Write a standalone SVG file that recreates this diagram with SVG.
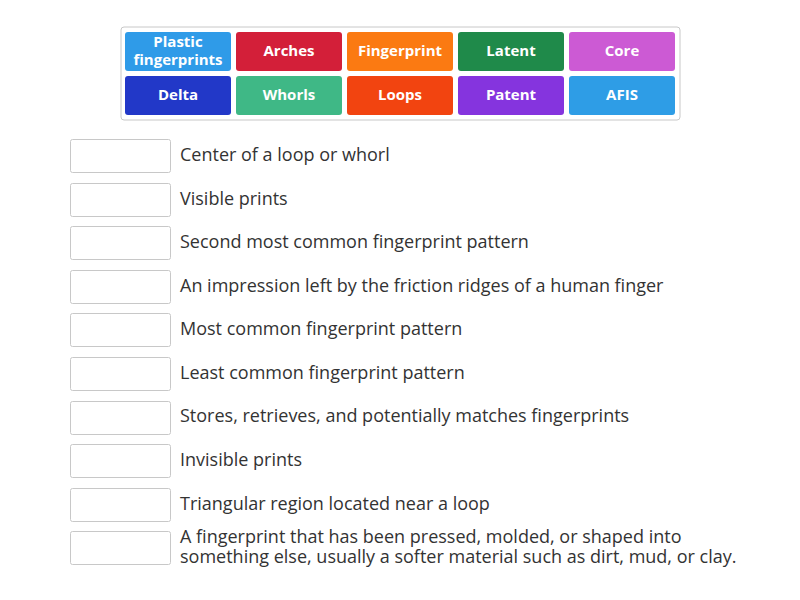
<svg xmlns="http://www.w3.org/2000/svg" width="800" height="600" viewBox="0 0 800 600">
<style>
.t{font-family:"Open Sans","Liberation Sans",sans-serif;font-weight:bold;font-size:15px;fill:#fff;text-anchor:middle}
.l{font-family:"Open Sans","Liberation Sans",sans-serif;font-size:18px;fill:#333}
.b{fill:#fff;stroke:#c8c8c8;stroke-width:1}
</style>
<rect width="800" height="600" fill="#fff"/>
<rect x="121" y="27" width="559" height="93" rx="3" fill="#fff" stroke="#c8c8c8"/>
<g id="tiles">
<g id="t1"><rect x="125" y="32" width="106" height="39" rx="3" fill="#2f9be8"/><text class="t" x="178" y="47">Plastic</text><text class="t" x="178" y="65">fingerprints</text></g>
<g id="t2"><rect x="236" y="32" width="106" height="39" rx="3" fill="#d31f39"/><text class="t" x="289" y="56">Arches</text></g>
<g id="t3"><rect x="347" y="32" width="106" height="39" rx="3" fill="#fb7a12"/><text class="t" x="400" y="56">Fingerprint</text></g>
<g id="t4"><rect x="458" y="32" width="106" height="39" rx="3" fill="#1f8a4a"/><text class="t" x="511" y="56">Latent</text></g>
<g id="t5"><rect x="569" y="32" width="106" height="39" rx="3" fill="#cc5ad4"/><text class="t" x="622" y="56">Core</text></g>
<g id="t6"><rect x="125" y="76" width="106" height="39" rx="3" fill="#2238c8"/><text class="t" x="178" y="100">Delta</text></g>
<g id="t7"><rect x="236" y="76" width="106" height="39" rx="3" fill="#3fb886"/><text class="t" x="289" y="100">Whorls</text></g>
<g id="t8"><rect x="347" y="76" width="106" height="39" rx="3" fill="#f24410"/><text class="t" x="400" y="100">Loops</text></g>
<g id="t9"><rect x="458" y="76" width="106" height="39" rx="3" fill="#8534de"/><text class="t" x="511" y="100">Patent</text></g>
<g id="t10"><rect x="569" y="76" width="106" height="39" rx="3" fill="#2e9de6"/><text class="t" x="622" y="100">AFIS</text></g>
</g>
<g id="rows">
<rect class="b" x="70.5" y="139.5" width="100" height="33" rx="2"/><text class="l" x="180" y="161">Center of a loop or whorl</text>
<rect class="b" x="70.5" y="183.5" width="100" height="33" rx="2"/><text class="l" x="180" y="205">Visible prints</text>
<rect class="b" x="70.5" y="226.5" width="100" height="33" rx="2"/><text class="l" x="180" y="248">Second most common fingerprint pattern</text>
<rect class="b" x="70.5" y="270.5" width="100" height="33" rx="2"/><text class="l" x="180" y="292">An impression left by the friction ridges of a human finger</text>
<rect class="b" x="70.5" y="313.5" width="100" height="33" rx="2"/><text class="l" x="180" y="335">Most common fingerprint pattern</text>
<rect class="b" x="70.5" y="357.5" width="100" height="33" rx="2"/><text class="l" x="180" y="379">Least common fingerprint pattern</text>
<rect class="b" x="70.5" y="401.5" width="100" height="33" rx="2"/><text class="l" x="180" y="422">Stores, retrieves, and potentially matches fingerprints</text>
<rect class="b" x="70.5" y="444.5" width="100" height="33" rx="2"/><text class="l" x="180" y="466">Invisible prints</text>
<rect class="b" x="70.5" y="488.5" width="100" height="33" rx="2"/><text class="l" x="180" y="510">Triangular region located near a loop</text>
<rect class="b" x="70.5" y="531.5" width="100" height="33" rx="2"/><text class="l" x="180" y="543">A fingerprint that has been pressed, molded, or shaped into</text><text class="l" x="180" y="563">something else, usually a softer material such as dirt, mud, or clay.</text>
</g>
</svg>
